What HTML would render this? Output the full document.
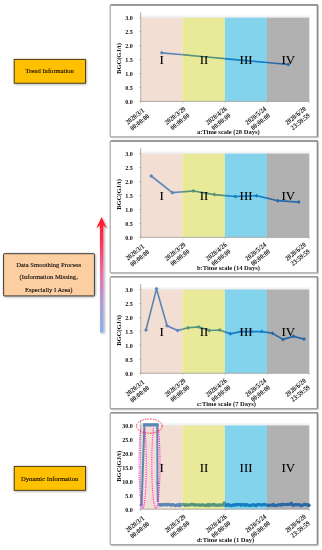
<!DOCTYPE html>
<html lang="en"><head><meta charset="utf-8"><title>Data smoothing process</title>
<style>
html,body{margin:0;padding:0;background:#fff;}
body{width:322px;height:550px;overflow:hidden;}
svg{display:block;}
text{font-family:"Liberation Serif",serif;fill:#111;}
.b{font-weight:bold;font-size:7.1px;}
.r{font-size:12.9px;fill:#000;stroke:#000;stroke-width:0.12px;}
.bx{font-size:6.6px;fill:#000;stroke:#000;stroke-width:0.08px;}
</style></head><body>
<svg width="322" height="550" viewBox="0 0 322 550">
<defs>
<filter id="sh" x="-10%" y="-10%" width="125%" height="125%"><feDropShadow dx="0.7" dy="0.7" stdDeviation="0.6" flood-color="#000" flood-opacity="0.35"/></filter>
<filter id="sh2" x="-20%" y="-20%" width="150%" height="150%"><feDropShadow dx="0.6" dy="0.6" stdDeviation="0.9" flood-color="#000" flood-opacity="0.38"/></filter>
<filter id="sh3" x="-200%" y="-5%" width="500%" height="110%"><feDropShadow dx="1.2" dy="1" stdDeviation="0.8" flood-color="#000" flood-opacity="0.35"/></filter>
<linearGradient id="ag" x1="0" y1="0" x2="0" y2="1">
<stop offset="0" stop-color="#FF1A28"/><stop offset="0.2" stop-color="#FC3050"/><stop offset="0.46" stop-color="#EE69A0"/><stop offset="0.667" stop-color="#BC91D0"/><stop offset="0.85" stop-color="#9DA8E2"/><stop offset="1" stop-color="#88B2EC"/>
</linearGradient>
<clipPath id="c0"><rect x="120.7" y="0" width="61.75" height="140"/></clipPath>
<clipPath id="c1"><rect x="182.45" y="0" width="42.4" height="140"/></clipPath>
<clipPath id="c2"><rect x="224.85" y="0" width="42.15" height="140"/></clipPath>
<clipPath id="c3"><rect x="267" y="0" width="62.3" height="140"/></clipPath>
</defs>
<rect width="322" height="550" fill="#fff"/>
<g filter="url(#sh2)">
<rect x="14.2" y="59.4" width="71.3" height="23.8" fill="#FFC000" stroke="#43340a" stroke-width="0.9"/>
<rect x="3.6" y="253.7" width="90.8" height="42.2" rx="0.6" fill="#FCCEA2" stroke="#3c3c3c" stroke-width="1"/>
<rect x="14.2" y="466.4" width="71.3" height="23.9" fill="#FFC000" stroke="#43340a" stroke-width="0.9"/>
</g>
<text class="bx" x="49.6" y="73.2" text-anchor="middle">Trend Information</text>
<text class="bx" x="48.7" y="266.6" text-anchor="middle">Data Smoothing Process</text>
<text class="bx" x="48.7" y="279.4" text-anchor="middle">(Information Missing,</text>
<text class="bx" x="48.7" y="291.9" text-anchor="middle">Especially I Area)</text>
<text class="bx" x="49.6" y="480.8" text-anchor="middle">Dynamic Information</text>
<g filter="url(#sh3)">
<path d="M101.6 217 L106.8 228.2 L103.3 225.6 L103.5 332.4 L100 332.4 L99.9 225.6 L96.2 228.2 Z" fill="url(#ag)"/>
</g>
<g transform="translate(0 0)">
<rect x="110.2" y="4.9" width="207.3" height="131.9" rx="1.1" fill="#fff" stroke="#a2a2a2" stroke-width="1.1" filter="url(#sh)"/>
<path d="M110.8 5H317.4V136.2" stroke="#8c8c8c" stroke-width="1.4" fill="none" stroke-linejoin="round"/>
<rect x="140.7" y="17.4" width="41.8" height="84" fill="#F2DED2"/>
<rect x="182.45" y="17.4" width="42.45" height="84" fill="#E8E999"/>
<rect x="224.85" y="17.4" width="42.2" height="84" fill="#84D3EC"/>
<rect x="267" y="17.4" width="42.3" height="84" fill="#B1B1B1"/>
<rect x="140.7" y="15.5" width="168.6" height="2.3" fill="#E6EAEE" opacity="0.6"/>
<path d="M140.7 12.2V101.4H309.3" fill="none" stroke="#9c9c9c" stroke-width="0.8"/>
<path d="M138.9 17.7H140.7M138.9 31.65H140.7M138.9 45.6H140.7M138.9 59.55H140.7M138.9 73.5H140.7M138.9 87.45H140.7M138.9 101.4H140.7M140.7 101.4V103.2M182.85 101.4V103.2M225 101.4V103.2M267.15 101.4V103.2M309.3 101.4V103.2" fill="none" stroke="#a8a8a8" stroke-width="0.6"/>
<text class="b" transform="translate(132.9 20.15) scale(0.86 1)" text-anchor="end">3.0</text>
<text class="b" transform="translate(132.9 34.1) scale(0.86 1)" text-anchor="end">2.5</text>
<text class="b" transform="translate(132.9 48.05) scale(0.86 1)" text-anchor="end">2.0</text>
<text class="b" transform="translate(132.9 62) scale(0.86 1)" text-anchor="end">1.5</text>
<text class="b" transform="translate(132.9 75.95) scale(0.86 1)" text-anchor="end">1.0</text>
<text class="b" transform="translate(132.9 89.9) scale(0.86 1)" text-anchor="end">0.5</text>
<text class="b" transform="translate(132.9 103.85) scale(0.86 1)" text-anchor="end">0.0</text>
<text class="b" transform="translate(121.3 58.55) rotate(-90) scale(0.92 1)" text-anchor="middle">BGC(GJ/t)</text>
<g transform="translate(136.4 118.1) rotate(-39) scale(0.86 1)"><text class="b" text-anchor="middle" x="0" y="0">2020/3/1</text><text class="b" text-anchor="middle" x="0" y="7.6">00:00:00</text></g>
<g transform="translate(176.55 117.5) rotate(-39) scale(0.86 1)"><text class="b" text-anchor="middle" x="0" y="0">2020/3/29</text><text class="b" text-anchor="middle" x="0" y="7.6">00:00:00</text></g>
<g transform="translate(217.7 117.5) rotate(-39) scale(0.86 1)"><text class="b" text-anchor="middle" x="0" y="0">2020/4/26</text><text class="b" text-anchor="middle" x="0" y="7.6">00:00:00</text></g>
<g transform="translate(257.15 117.5) rotate(-39) scale(0.86 1)"><text class="b" text-anchor="middle" x="0" y="0">2020/5/24</text><text class="b" text-anchor="middle" x="0" y="7.6">00:00:00</text></g>
<g transform="translate(297 117.5) rotate(-39) scale(0.86 1)"><text class="b" text-anchor="middle" x="0" y="0">2020/6/20</text><text class="b" text-anchor="middle" x="0" y="7.6">23:59:59</text></g>
<text class="b" transform="translate(196.9 134.4) scale(0.92 1)">a:Time scale (28 Days)</text>
<g clip-path="url(#c0)" stroke="#5C86B6" fill="#5C86B6"><polyline points="161.77,52.82 203.93,56.71 246.07,60.59 288.23,64.48" fill="none" stroke-width="1.65" stroke-linejoin="round"/><path stroke="none" d="M161.77 50.82L163.77 52.82L161.77 54.82L159.77 52.82Z"/><path stroke="none" d="M288.23 62.48L290.23 64.48L288.23 66.48L286.23 64.48Z"/></g>
<g clip-path="url(#c1)" stroke="#55937A" fill="#55937A"><polyline points="161.77,52.82 203.93,56.71 246.07,60.59 288.23,64.48" fill="none" stroke-width="1.65" stroke-linejoin="round"/><path stroke="none" d="M161.77 50.82L163.77 52.82L161.77 54.82L159.77 52.82Z"/><path stroke="none" d="M288.23 62.48L290.23 64.48L288.23 66.48L286.23 64.48Z"/></g>
<g clip-path="url(#c2)" stroke="#147DC3" fill="#147DC3"><polyline points="161.77,52.82 203.93,56.71 246.07,60.59 288.23,64.48" fill="none" stroke-width="1.65" stroke-linejoin="round"/><path stroke="none" d="M161.77 50.82L163.77 52.82L161.77 54.82L159.77 52.82Z"/><path stroke="none" d="M288.23 62.48L290.23 64.48L288.23 66.48L286.23 64.48Z"/></g>
<g clip-path="url(#c3)" stroke="#2A68A8" fill="#2A68A8"><polyline points="161.77,52.82 203.93,56.71 246.07,60.59 288.23,64.48" fill="none" stroke-width="1.65" stroke-linejoin="round"/><path stroke="none" d="M161.77 50.82L163.77 52.82L161.77 54.82L159.77 52.82Z"/><path stroke="none" d="M288.23 62.48L290.23 64.48L288.23 66.48L286.23 64.48Z"/></g>
<text class="r" x="161.77" y="64.1" text-anchor="middle">I</text>
<text class="r" x="203.93" y="64.1" text-anchor="middle">II</text>
<text class="r" x="246.07" y="64.1" text-anchor="middle">III</text>
<text class="r" x="288.23" y="64.1" text-anchor="middle">IV</text>
</g>
<g transform="translate(0 135.93)">
<rect x="110.2" y="4.9" width="207.3" height="131.9" rx="1.1" fill="#fff" stroke="#a2a2a2" stroke-width="1.1" filter="url(#sh)"/>
<path d="M110.8 5H317.4V136.2" stroke="#8c8c8c" stroke-width="1.4" fill="none" stroke-linejoin="round"/>
<rect x="140.7" y="17.4" width="41.8" height="84" fill="#F2DED2"/>
<rect x="182.45" y="17.4" width="42.45" height="84" fill="#E8E999"/>
<rect x="224.85" y="17.4" width="42.2" height="84" fill="#84D3EC"/>
<rect x="267" y="17.4" width="42.3" height="84" fill="#B1B1B1"/>
<rect x="140.7" y="15.5" width="168.6" height="2.3" fill="#E6EAEE" opacity="0.6"/>
<path d="M140.7 12.2V101.4H309.3" fill="none" stroke="#9c9c9c" stroke-width="0.8"/>
<path d="M138.9 17.7H140.7M138.9 31.65H140.7M138.9 45.6H140.7M138.9 59.55H140.7M138.9 73.5H140.7M138.9 87.45H140.7M138.9 101.4H140.7M140.7 101.4V103.2M182.85 101.4V103.2M225 101.4V103.2M267.15 101.4V103.2M309.3 101.4V103.2" fill="none" stroke="#a8a8a8" stroke-width="0.6"/>
<text class="b" transform="translate(132.9 20.15) scale(0.86 1)" text-anchor="end">3.0</text>
<text class="b" transform="translate(132.9 34.1) scale(0.86 1)" text-anchor="end">2.5</text>
<text class="b" transform="translate(132.9 48.05) scale(0.86 1)" text-anchor="end">2.0</text>
<text class="b" transform="translate(132.9 62) scale(0.86 1)" text-anchor="end">1.5</text>
<text class="b" transform="translate(132.9 75.95) scale(0.86 1)" text-anchor="end">1.0</text>
<text class="b" transform="translate(132.9 89.9) scale(0.86 1)" text-anchor="end">0.5</text>
<text class="b" transform="translate(132.9 103.85) scale(0.86 1)" text-anchor="end">0.0</text>
<text class="b" transform="translate(121.3 58.55) rotate(-90) scale(0.92 1)" text-anchor="middle">BGC(GJ/t)</text>
<g transform="translate(136.4 118.1) rotate(-39) scale(0.86 1)"><text class="b" text-anchor="middle" x="0" y="0">2020/3/1</text><text class="b" text-anchor="middle" x="0" y="7.6">00:00:00</text></g>
<g transform="translate(176.55 117.5) rotate(-39) scale(0.86 1)"><text class="b" text-anchor="middle" x="0" y="0">2020/3/29</text><text class="b" text-anchor="middle" x="0" y="7.6">00:00:00</text></g>
<g transform="translate(217.7 117.5) rotate(-39) scale(0.86 1)"><text class="b" text-anchor="middle" x="0" y="0">2020/4/26</text><text class="b" text-anchor="middle" x="0" y="7.6">00:00:00</text></g>
<g transform="translate(257.15 117.5) rotate(-39) scale(0.86 1)"><text class="b" text-anchor="middle" x="0" y="0">2020/5/24</text><text class="b" text-anchor="middle" x="0" y="7.6">00:00:00</text></g>
<g transform="translate(297 117.5) rotate(-39) scale(0.86 1)"><text class="b" text-anchor="middle" x="0" y="0">2020/6/20</text><text class="b" text-anchor="middle" x="0" y="7.6">23:59:59</text></g>
<text class="b" transform="translate(196.9 134.4) scale(0.92 1)">b:Time scale (14 Days)</text>
<g clip-path="url(#c0)" stroke="#5C86B6" fill="#5C86B6"><polyline points="151.24,40.05 172.31,56.71 193.39,55.04 214.46,58.65 235.54,60.59 256.61,59.76 277.69,64.76 298.76,66.15" fill="none" stroke-width="1.65" stroke-linejoin="round"/><path stroke="none" d="M151.24 38.05L153.24 40.05L151.24 42.05L149.24 40.05Z"/><path stroke="none" d="M172.31 54.71L174.31 56.71L172.31 58.71L170.31 56.71Z"/><path stroke="none" d="M193.39 53.04L195.39 55.04L193.39 57.04L191.39 55.04Z"/><path stroke="none" d="M214.46 56.65L216.46 58.65L214.46 60.65L212.46 58.65Z"/><path stroke="none" d="M235.54 58.59L237.54 60.59L235.54 62.59L233.54 60.59Z"/><path stroke="none" d="M256.61 57.76L258.61 59.76L256.61 61.76L254.61 59.76Z"/><path stroke="none" d="M277.69 62.76L279.69 64.76L277.69 66.76L275.69 64.76Z"/><path stroke="none" d="M298.76 64.15L300.76 66.15L298.76 68.15L296.76 66.15Z"/></g>
<g clip-path="url(#c1)" stroke="#55937A" fill="#55937A"><polyline points="151.24,40.05 172.31,56.71 193.39,55.04 214.46,58.65 235.54,60.59 256.61,59.76 277.69,64.76 298.76,66.15" fill="none" stroke-width="1.65" stroke-linejoin="round"/><path stroke="none" d="M151.24 38.05L153.24 40.05L151.24 42.05L149.24 40.05Z"/><path stroke="none" d="M172.31 54.71L174.31 56.71L172.31 58.71L170.31 56.71Z"/><path stroke="none" d="M193.39 53.04L195.39 55.04L193.39 57.04L191.39 55.04Z"/><path stroke="none" d="M214.46 56.65L216.46 58.65L214.46 60.65L212.46 58.65Z"/><path stroke="none" d="M235.54 58.59L237.54 60.59L235.54 62.59L233.54 60.59Z"/><path stroke="none" d="M256.61 57.76L258.61 59.76L256.61 61.76L254.61 59.76Z"/><path stroke="none" d="M277.69 62.76L279.69 64.76L277.69 66.76L275.69 64.76Z"/><path stroke="none" d="M298.76 64.15L300.76 66.15L298.76 68.15L296.76 66.15Z"/></g>
<g clip-path="url(#c2)" stroke="#147DC3" fill="#147DC3"><polyline points="151.24,40.05 172.31,56.71 193.39,55.04 214.46,58.65 235.54,60.59 256.61,59.76 277.69,64.76 298.76,66.15" fill="none" stroke-width="1.65" stroke-linejoin="round"/><path stroke="none" d="M151.24 38.05L153.24 40.05L151.24 42.05L149.24 40.05Z"/><path stroke="none" d="M172.31 54.71L174.31 56.71L172.31 58.71L170.31 56.71Z"/><path stroke="none" d="M193.39 53.04L195.39 55.04L193.39 57.04L191.39 55.04Z"/><path stroke="none" d="M214.46 56.65L216.46 58.65L214.46 60.65L212.46 58.65Z"/><path stroke="none" d="M235.54 58.59L237.54 60.59L235.54 62.59L233.54 60.59Z"/><path stroke="none" d="M256.61 57.76L258.61 59.76L256.61 61.76L254.61 59.76Z"/><path stroke="none" d="M277.69 62.76L279.69 64.76L277.69 66.76L275.69 64.76Z"/><path stroke="none" d="M298.76 64.15L300.76 66.15L298.76 68.15L296.76 66.15Z"/></g>
<g clip-path="url(#c3)" stroke="#2A68A8" fill="#2A68A8"><polyline points="151.24,40.05 172.31,56.71 193.39,55.04 214.46,58.65 235.54,60.59 256.61,59.76 277.69,64.76 298.76,66.15" fill="none" stroke-width="1.65" stroke-linejoin="round"/><path stroke="none" d="M151.24 38.05L153.24 40.05L151.24 42.05L149.24 40.05Z"/><path stroke="none" d="M172.31 54.71L174.31 56.71L172.31 58.71L170.31 56.71Z"/><path stroke="none" d="M193.39 53.04L195.39 55.04L193.39 57.04L191.39 55.04Z"/><path stroke="none" d="M214.46 56.65L216.46 58.65L214.46 60.65L212.46 58.65Z"/><path stroke="none" d="M235.54 58.59L237.54 60.59L235.54 62.59L233.54 60.59Z"/><path stroke="none" d="M256.61 57.76L258.61 59.76L256.61 61.76L254.61 59.76Z"/><path stroke="none" d="M277.69 62.76L279.69 64.76L277.69 66.76L275.69 64.76Z"/><path stroke="none" d="M298.76 64.15L300.76 66.15L298.76 68.15L296.76 66.15Z"/></g>
<text class="r" x="161.77" y="64.1" text-anchor="middle">I</text>
<text class="r" x="203.93" y="64.1" text-anchor="middle">II</text>
<text class="r" x="246.07" y="64.1" text-anchor="middle">III</text>
<text class="r" x="288.23" y="64.1" text-anchor="middle">IV</text>
</g>
<g transform="translate(0 271.86)">
<rect x="110.2" y="4.9" width="207.3" height="131.9" rx="1.1" fill="#fff" stroke="#a2a2a2" stroke-width="1.1" filter="url(#sh)"/>
<path d="M110.8 5H317.4V136.2" stroke="#8c8c8c" stroke-width="1.4" fill="none" stroke-linejoin="round"/>
<rect x="140.7" y="17.4" width="41.8" height="84" fill="#F2DED2"/>
<rect x="182.45" y="17.4" width="42.45" height="84" fill="#E8E999"/>
<rect x="224.85" y="17.4" width="42.2" height="84" fill="#84D3EC"/>
<rect x="267" y="17.4" width="42.3" height="84" fill="#B1B1B1"/>
<rect x="140.7" y="15.5" width="168.6" height="2.3" fill="#E6EAEE" opacity="0.6"/>
<path d="M140.7 12.2V101.4H309.3" fill="none" stroke="#9c9c9c" stroke-width="0.8"/>
<path d="M138.9 17.7H140.7M138.9 31.65H140.7M138.9 45.6H140.7M138.9 59.55H140.7M138.9 73.5H140.7M138.9 87.45H140.7M138.9 101.4H140.7M140.7 101.4V103.2M182.85 101.4V103.2M225 101.4V103.2M267.15 101.4V103.2M309.3 101.4V103.2" fill="none" stroke="#a8a8a8" stroke-width="0.6"/>
<text class="b" transform="translate(132.9 20.15) scale(0.86 1)" text-anchor="end">3.0</text>
<text class="b" transform="translate(132.9 34.1) scale(0.86 1)" text-anchor="end">2.5</text>
<text class="b" transform="translate(132.9 48.05) scale(0.86 1)" text-anchor="end">2.0</text>
<text class="b" transform="translate(132.9 62) scale(0.86 1)" text-anchor="end">1.5</text>
<text class="b" transform="translate(132.9 75.95) scale(0.86 1)" text-anchor="end">1.0</text>
<text class="b" transform="translate(132.9 89.9) scale(0.86 1)" text-anchor="end">0.5</text>
<text class="b" transform="translate(132.9 103.85) scale(0.86 1)" text-anchor="end">0.0</text>
<text class="b" transform="translate(121.3 58.55) rotate(-90) scale(0.92 1)" text-anchor="middle">BGC(GJ/t)</text>
<g transform="translate(136.4 118.1) rotate(-39) scale(0.86 1)"><text class="b" text-anchor="middle" x="0" y="0">2020/3/1</text><text class="b" text-anchor="middle" x="0" y="7.6">00:00:00</text></g>
<g transform="translate(176.55 117.5) rotate(-39) scale(0.86 1)"><text class="b" text-anchor="middle" x="0" y="0">2020/3/29</text><text class="b" text-anchor="middle" x="0" y="7.6">00:00:00</text></g>
<g transform="translate(217.7 117.5) rotate(-39) scale(0.86 1)"><text class="b" text-anchor="middle" x="0" y="0">2020/4/26</text><text class="b" text-anchor="middle" x="0" y="7.6">00:00:00</text></g>
<g transform="translate(257.15 117.5) rotate(-39) scale(0.86 1)"><text class="b" text-anchor="middle" x="0" y="0">2020/5/24</text><text class="b" text-anchor="middle" x="0" y="7.6">00:00:00</text></g>
<g transform="translate(297 117.5) rotate(-39) scale(0.86 1)"><text class="b" text-anchor="middle" x="0" y="0">2020/6/20</text><text class="b" text-anchor="middle" x="0" y="7.6">23:59:59</text></g>
<text class="b" transform="translate(196.9 134.4) scale(0.92 1)">c:Time scale (7 Days)</text>
<g clip-path="url(#c0)" stroke="#5C86B6" fill="#5C86B6"><polyline points="145.97,58.09 156.51,17 167.04,53.93 177.58,58.65 188.12,55.87 198.66,55.04 209.19,58.65 219.73,58.09 230.27,61.98 240.81,59.76 251.34,59.76 261.88,59.76 272.42,61.43 282.96,67.54 293.49,64.48 304.03,67.26" fill="none" stroke-width="1.65" stroke-linejoin="round"/><path stroke="none" d="M145.97 56.09L147.97 58.09L145.97 60.09L143.97 58.09Z"/><path stroke="none" d="M156.51 15L158.51 17L156.51 19L154.51 17Z"/><path stroke="none" d="M167.04 51.93L169.04 53.93L167.04 55.93L165.04 53.93Z"/><path stroke="none" d="M177.58 56.65L179.58 58.65L177.58 60.65L175.58 58.65Z"/><path stroke="none" d="M188.12 53.87L190.12 55.87L188.12 57.87L186.12 55.87Z"/><path stroke="none" d="M198.66 53.04L200.66 55.04L198.66 57.04L196.66 55.04Z"/><path stroke="none" d="M209.19 56.65L211.19 58.65L209.19 60.65L207.19 58.65Z"/><path stroke="none" d="M219.73 56.09L221.73 58.09L219.73 60.09L217.73 58.09Z"/><path stroke="none" d="M230.27 59.98L232.27 61.98L230.27 63.98L228.27 61.98Z"/><path stroke="none" d="M240.81 57.76L242.81 59.76L240.81 61.76L238.81 59.76Z"/><path stroke="none" d="M251.34 57.76L253.34 59.76L251.34 61.76L249.34 59.76Z"/><path stroke="none" d="M261.88 57.76L263.88 59.76L261.88 61.76L259.88 59.76Z"/><path stroke="none" d="M272.42 59.43L274.42 61.43L272.42 63.43L270.42 61.43Z"/><path stroke="none" d="M282.96 65.54L284.96 67.54L282.96 69.54L280.96 67.54Z"/><path stroke="none" d="M293.49 62.48L295.49 64.48L293.49 66.48L291.49 64.48Z"/><path stroke="none" d="M304.03 65.26L306.03 67.26L304.03 69.26L302.03 67.26Z"/></g>
<g clip-path="url(#c1)" stroke="#55937A" fill="#55937A"><polyline points="145.97,58.09 156.51,17 167.04,53.93 177.58,58.65 188.12,55.87 198.66,55.04 209.19,58.65 219.73,58.09 230.27,61.98 240.81,59.76 251.34,59.76 261.88,59.76 272.42,61.43 282.96,67.54 293.49,64.48 304.03,67.26" fill="none" stroke-width="1.65" stroke-linejoin="round"/><path stroke="none" d="M145.97 56.09L147.97 58.09L145.97 60.09L143.97 58.09Z"/><path stroke="none" d="M156.51 15L158.51 17L156.51 19L154.51 17Z"/><path stroke="none" d="M167.04 51.93L169.04 53.93L167.04 55.93L165.04 53.93Z"/><path stroke="none" d="M177.58 56.65L179.58 58.65L177.58 60.65L175.58 58.65Z"/><path stroke="none" d="M188.12 53.87L190.12 55.87L188.12 57.87L186.12 55.87Z"/><path stroke="none" d="M198.66 53.04L200.66 55.04L198.66 57.04L196.66 55.04Z"/><path stroke="none" d="M209.19 56.65L211.19 58.65L209.19 60.65L207.19 58.65Z"/><path stroke="none" d="M219.73 56.09L221.73 58.09L219.73 60.09L217.73 58.09Z"/><path stroke="none" d="M230.27 59.98L232.27 61.98L230.27 63.98L228.27 61.98Z"/><path stroke="none" d="M240.81 57.76L242.81 59.76L240.81 61.76L238.81 59.76Z"/><path stroke="none" d="M251.34 57.76L253.34 59.76L251.34 61.76L249.34 59.76Z"/><path stroke="none" d="M261.88 57.76L263.88 59.76L261.88 61.76L259.88 59.76Z"/><path stroke="none" d="M272.42 59.43L274.42 61.43L272.42 63.43L270.42 61.43Z"/><path stroke="none" d="M282.96 65.54L284.96 67.54L282.96 69.54L280.96 67.54Z"/><path stroke="none" d="M293.49 62.48L295.49 64.48L293.49 66.48L291.49 64.48Z"/><path stroke="none" d="M304.03 65.26L306.03 67.26L304.03 69.26L302.03 67.26Z"/></g>
<g clip-path="url(#c2)" stroke="#147DC3" fill="#147DC3"><polyline points="145.97,58.09 156.51,17 167.04,53.93 177.58,58.65 188.12,55.87 198.66,55.04 209.19,58.65 219.73,58.09 230.27,61.98 240.81,59.76 251.34,59.76 261.88,59.76 272.42,61.43 282.96,67.54 293.49,64.48 304.03,67.26" fill="none" stroke-width="1.65" stroke-linejoin="round"/><path stroke="none" d="M145.97 56.09L147.97 58.09L145.97 60.09L143.97 58.09Z"/><path stroke="none" d="M156.51 15L158.51 17L156.51 19L154.51 17Z"/><path stroke="none" d="M167.04 51.93L169.04 53.93L167.04 55.93L165.04 53.93Z"/><path stroke="none" d="M177.58 56.65L179.58 58.65L177.58 60.65L175.58 58.65Z"/><path stroke="none" d="M188.12 53.87L190.12 55.87L188.12 57.87L186.12 55.87Z"/><path stroke="none" d="M198.66 53.04L200.66 55.04L198.66 57.04L196.66 55.04Z"/><path stroke="none" d="M209.19 56.65L211.19 58.65L209.19 60.65L207.19 58.65Z"/><path stroke="none" d="M219.73 56.09L221.73 58.09L219.73 60.09L217.73 58.09Z"/><path stroke="none" d="M230.27 59.98L232.27 61.98L230.27 63.98L228.27 61.98Z"/><path stroke="none" d="M240.81 57.76L242.81 59.76L240.81 61.76L238.81 59.76Z"/><path stroke="none" d="M251.34 57.76L253.34 59.76L251.34 61.76L249.34 59.76Z"/><path stroke="none" d="M261.88 57.76L263.88 59.76L261.88 61.76L259.88 59.76Z"/><path stroke="none" d="M272.42 59.43L274.42 61.43L272.42 63.43L270.42 61.43Z"/><path stroke="none" d="M282.96 65.54L284.96 67.54L282.96 69.54L280.96 67.54Z"/><path stroke="none" d="M293.49 62.48L295.49 64.48L293.49 66.48L291.49 64.48Z"/><path stroke="none" d="M304.03 65.26L306.03 67.26L304.03 69.26L302.03 67.26Z"/></g>
<g clip-path="url(#c3)" stroke="#2A68A8" fill="#2A68A8"><polyline points="145.97,58.09 156.51,17 167.04,53.93 177.58,58.65 188.12,55.87 198.66,55.04 209.19,58.65 219.73,58.09 230.27,61.98 240.81,59.76 251.34,59.76 261.88,59.76 272.42,61.43 282.96,67.54 293.49,64.48 304.03,67.26" fill="none" stroke-width="1.65" stroke-linejoin="round"/><path stroke="none" d="M145.97 56.09L147.97 58.09L145.97 60.09L143.97 58.09Z"/><path stroke="none" d="M156.51 15L158.51 17L156.51 19L154.51 17Z"/><path stroke="none" d="M167.04 51.93L169.04 53.93L167.04 55.93L165.04 53.93Z"/><path stroke="none" d="M177.58 56.65L179.58 58.65L177.58 60.65L175.58 58.65Z"/><path stroke="none" d="M188.12 53.87L190.12 55.87L188.12 57.87L186.12 55.87Z"/><path stroke="none" d="M198.66 53.04L200.66 55.04L198.66 57.04L196.66 55.04Z"/><path stroke="none" d="M209.19 56.65L211.19 58.65L209.19 60.65L207.19 58.65Z"/><path stroke="none" d="M219.73 56.09L221.73 58.09L219.73 60.09L217.73 58.09Z"/><path stroke="none" d="M230.27 59.98L232.27 61.98L230.27 63.98L228.27 61.98Z"/><path stroke="none" d="M240.81 57.76L242.81 59.76L240.81 61.76L238.81 59.76Z"/><path stroke="none" d="M251.34 57.76L253.34 59.76L251.34 61.76L249.34 59.76Z"/><path stroke="none" d="M261.88 57.76L263.88 59.76L261.88 61.76L259.88 59.76Z"/><path stroke="none" d="M272.42 59.43L274.42 61.43L272.42 63.43L270.42 61.43Z"/><path stroke="none" d="M282.96 65.54L284.96 67.54L282.96 69.54L280.96 67.54Z"/><path stroke="none" d="M293.49 62.48L295.49 64.48L293.49 66.48L291.49 64.48Z"/><path stroke="none" d="M304.03 65.26L306.03 67.26L304.03 69.26L302.03 67.26Z"/></g>
<text class="r" x="161.77" y="64.1" text-anchor="middle">I</text>
<text class="r" x="203.93" y="64.1" text-anchor="middle">II</text>
<text class="r" x="246.07" y="64.1" text-anchor="middle">III</text>
<text class="r" x="288.23" y="64.1" text-anchor="middle">IV</text>
</g>
<g transform="translate(0 407.79)">
<rect x="110.2" y="4.9" width="207.3" height="131.9" rx="1.1" fill="#fff" stroke="#a2a2a2" stroke-width="1.1" filter="url(#sh)"/>
<path d="M110.8 5H317.4V136.2" stroke="#8c8c8c" stroke-width="1.4" fill="none" stroke-linejoin="round"/>
<rect x="140.7" y="17.4" width="41.8" height="84" fill="#F2DED2"/>
<rect x="182.45" y="17.4" width="42.45" height="84" fill="#E8E999"/>
<rect x="224.85" y="17.4" width="42.2" height="84" fill="#84D3EC"/>
<rect x="267" y="17.4" width="42.3" height="84" fill="#B1B1B1"/>
<rect x="140.7" y="15.5" width="168.6" height="2.3" fill="#E6EAEE" opacity="0.6"/>
<path d="M140.7 12.2V101.4H309.3" fill="none" stroke="#9c9c9c" stroke-width="0.8"/>
<path d="M138.9 17.7H140.7M138.9 31.65H140.7M138.9 45.6H140.7M138.9 59.55H140.7M138.9 73.5H140.7M138.9 87.45H140.7M138.9 101.4H140.7M140.7 101.4V103.2M182.85 101.4V103.2M225 101.4V103.2M267.15 101.4V103.2M309.3 101.4V103.2" fill="none" stroke="#a8a8a8" stroke-width="0.6"/>
<text class="b" transform="translate(132.9 20.15) scale(0.86 1)" text-anchor="end">30.0</text>
<text class="b" transform="translate(132.9 34.1) scale(0.86 1)" text-anchor="end">25.0</text>
<text class="b" transform="translate(132.9 48.05) scale(0.86 1)" text-anchor="end">20.0</text>
<text class="b" transform="translate(132.9 62) scale(0.86 1)" text-anchor="end">15.0</text>
<text class="b" transform="translate(132.9 75.95) scale(0.86 1)" text-anchor="end">10.0</text>
<text class="b" transform="translate(132.9 89.9) scale(0.86 1)" text-anchor="end">5.0</text>
<text class="b" transform="translate(132.9 103.85) scale(0.86 1)" text-anchor="end">0.0</text>
<text class="b" transform="translate(121.3 58.55) rotate(-90) scale(0.92 1)" text-anchor="middle">BGC(GJ/t)</text>
<g transform="translate(136.4 118.1) rotate(-39) scale(0.86 1)"><text class="b" text-anchor="middle" x="0" y="0">2020/3/1</text><text class="b" text-anchor="middle" x="0" y="7.6">00:00:00</text></g>
<g transform="translate(176.55 117.5) rotate(-39) scale(0.86 1)"><text class="b" text-anchor="middle" x="0" y="0">2020/3/29</text><text class="b" text-anchor="middle" x="0" y="7.6">00:00:00</text></g>
<g transform="translate(217.7 117.5) rotate(-39) scale(0.86 1)"><text class="b" text-anchor="middle" x="0" y="0">2020/4/26</text><text class="b" text-anchor="middle" x="0" y="7.6">00:00:00</text></g>
<g transform="translate(257.15 117.5) rotate(-39) scale(0.86 1)"><text class="b" text-anchor="middle" x="0" y="0">2020/5/24</text><text class="b" text-anchor="middle" x="0" y="7.6">00:00:00</text></g>
<g transform="translate(297 117.5) rotate(-39) scale(0.86 1)"><text class="b" text-anchor="middle" x="0" y="0">2020/6/20</text><text class="b" text-anchor="middle" x="0" y="7.6">23:59:59</text></g>
<text class="b" transform="translate(196.9 134.4) scale(0.92 1)">d:Time scale (1 Day)</text>
<g clip-path="url(#c0)" stroke="#5C86B6" fill="#5C86B6"><polyline points="140.9,96.97 141.6,97.52 144.4,17 157.3,17 157.5,75.31 157.9,94.19" fill="none" stroke-width="2" stroke-linejoin="round"/><path d="M142.8 17.1H158.7" stroke-width="3.3" fill="none"/><polyline points="158.2,96.94 159.2,96.7 160.2,97.4 161.2,96.59 162.2,97.24 163.2,97 164.2,96.57 165.2,97.2 166.2,96.54 167.2,97.1 168.2,96.59 169.2,96.62 170.2,97.08 171.2,97.65 172.2,96.66 173.2,96.8 174.2,97.37 175.2,97.82 176.2,97.3 177.2,97.05 178.2,97.86 179.2,96.56 180.2,97.69 181.2,96.9 182.2,96.69 183.2,96.66 184.2,96.92 185.2,97.63 186.2,96.74 187.2,97.3 188.2,97.38 189.2,97.01 190.2,97.26 191.2,96.58 192.2,96.57 193.2,96.78 194.2,97.44 195.2,97.09 196.2,96.93 197.2,97.31 198.2,97.12 199.2,96.91 200.2,97.6 201.2,97.47 202.2,96.83 203.2,97.29 204.2,97.23 205.2,97.72 206.2,97.51 207.2,96.89 208.2,97.86 209.2,96.66 210.2,97.08 211.2,97.55 212.2,96.7 213.2,97.17 214.2,96.55 215.2,97.43 216.2,97.56 217.2,97.29 218.2,97.72 219.2,96.93 220.2,97.46 221.2,97.32 222.2,97.3 223.2,97.13 224.2,95.07 225.2,97.81 226.2,97.15 227.2,97.42 228.2,96.58 229.2,97.47 230.2,97.4 231.2,97.88 232.2,97.64 233.2,96.89 234.2,97.03 235.2,97.43 236.2,96.52 237.2,97.14 238.2,96.73 239.2,96.65 240.2,96.57 241.2,97.57 242.2,96.67 243.2,96.84 244.2,97.04 245.2,97.71 246.2,96.6 247.2,97.12 248.2,97.26 249.2,97.73 250.2,97.64 251.2,97.7 252.2,96.88 253.2,97.07 254.2,96.99 255.2,97.73 256.2,97.83 257.2,96.7 258.2,96.74 259.2,96.81 260.2,96.82 261.2,97.17 262.2,97.31 263.2,96.86 264.2,96.5 265.2,97.08 266.2,97.01 267.2,97.28 268.2,97.82 269.2,97.46 270.2,97.21 271.2,97.35 272.2,97.44 273.2,96.57 274.2,97.75 275.2,97.58 276.2,97.71 277.2,97.61 278.2,97.04 279.2,97.05 280.2,96.64 281.2,97.38 282.2,96.58 283.2,96.58 284.2,96.78 285.2,96.72 286.2,96.97 287.2,96.56 288.2,96.49 289.2,96.7 290.2,96.63 291.2,95.4 292.2,96.53 293.2,97.71 294.2,97.35 295.2,96.7 296.2,96.84 297.2,96.98 298.2,97 299.2,96.66 300.2,97.68 301.2,97.88 302.2,97.14 303.2,97.17 304.2,96.61 305.2,96.63 306.2,96.97 307.2,96.86 308.2,97.65 309,97.39" fill="none" stroke-width="3.1" stroke-linejoin="round"/><path stroke="none" d="M309 95.29L311.1 97.39L309 99.49L306.9 97.39Z"/><path stroke="none" d="M157.6 73.51L159.4 75.31L157.6 77.11L155.8 75.31Z"/><path stroke="none" d="M141 95.17L142.8 96.97L141 98.77L139.2 96.97Z"/></g>
<g clip-path="url(#c1)" stroke="#55937A" fill="#55937A"><polyline points="140.9,96.97 141.6,97.52 144.4,17 157.3,17 157.5,75.31 157.9,94.19" fill="none" stroke-width="2" stroke-linejoin="round"/><path d="M142.8 17.1H158.7" stroke-width="3.3" fill="none"/><polyline points="158.2,96.94 159.2,96.7 160.2,97.4 161.2,96.59 162.2,97.24 163.2,97 164.2,96.57 165.2,97.2 166.2,96.54 167.2,97.1 168.2,96.59 169.2,96.62 170.2,97.08 171.2,97.65 172.2,96.66 173.2,96.8 174.2,97.37 175.2,97.82 176.2,97.3 177.2,97.05 178.2,97.86 179.2,96.56 180.2,97.69 181.2,96.9 182.2,96.69 183.2,96.66 184.2,96.92 185.2,97.63 186.2,96.74 187.2,97.3 188.2,97.38 189.2,97.01 190.2,97.26 191.2,96.58 192.2,96.57 193.2,96.78 194.2,97.44 195.2,97.09 196.2,96.93 197.2,97.31 198.2,97.12 199.2,96.91 200.2,97.6 201.2,97.47 202.2,96.83 203.2,97.29 204.2,97.23 205.2,97.72 206.2,97.51 207.2,96.89 208.2,97.86 209.2,96.66 210.2,97.08 211.2,97.55 212.2,96.7 213.2,97.17 214.2,96.55 215.2,97.43 216.2,97.56 217.2,97.29 218.2,97.72 219.2,96.93 220.2,97.46 221.2,97.32 222.2,97.3 223.2,97.13 224.2,95.07 225.2,97.81 226.2,97.15 227.2,97.42 228.2,96.58 229.2,97.47 230.2,97.4 231.2,97.88 232.2,97.64 233.2,96.89 234.2,97.03 235.2,97.43 236.2,96.52 237.2,97.14 238.2,96.73 239.2,96.65 240.2,96.57 241.2,97.57 242.2,96.67 243.2,96.84 244.2,97.04 245.2,97.71 246.2,96.6 247.2,97.12 248.2,97.26 249.2,97.73 250.2,97.64 251.2,97.7 252.2,96.88 253.2,97.07 254.2,96.99 255.2,97.73 256.2,97.83 257.2,96.7 258.2,96.74 259.2,96.81 260.2,96.82 261.2,97.17 262.2,97.31 263.2,96.86 264.2,96.5 265.2,97.08 266.2,97.01 267.2,97.28 268.2,97.82 269.2,97.46 270.2,97.21 271.2,97.35 272.2,97.44 273.2,96.57 274.2,97.75 275.2,97.58 276.2,97.71 277.2,97.61 278.2,97.04 279.2,97.05 280.2,96.64 281.2,97.38 282.2,96.58 283.2,96.58 284.2,96.78 285.2,96.72 286.2,96.97 287.2,96.56 288.2,96.49 289.2,96.7 290.2,96.63 291.2,95.4 292.2,96.53 293.2,97.71 294.2,97.35 295.2,96.7 296.2,96.84 297.2,96.98 298.2,97 299.2,96.66 300.2,97.68 301.2,97.88 302.2,97.14 303.2,97.17 304.2,96.61 305.2,96.63 306.2,96.97 307.2,96.86 308.2,97.65 309,97.39" fill="none" stroke-width="3.1" stroke-linejoin="round"/><path stroke="none" d="M309 95.29L311.1 97.39L309 99.49L306.9 97.39Z"/><path stroke="none" d="M157.6 73.51L159.4 75.31L157.6 77.11L155.8 75.31Z"/><path stroke="none" d="M141 95.17L142.8 96.97L141 98.77L139.2 96.97Z"/></g>
<g clip-path="url(#c2)" stroke="#147DC3" fill="#147DC3"><polyline points="140.9,96.97 141.6,97.52 144.4,17 157.3,17 157.5,75.31 157.9,94.19" fill="none" stroke-width="2" stroke-linejoin="round"/><path d="M142.8 17.1H158.7" stroke-width="3.3" fill="none"/><polyline points="158.2,96.94 159.2,96.7 160.2,97.4 161.2,96.59 162.2,97.24 163.2,97 164.2,96.57 165.2,97.2 166.2,96.54 167.2,97.1 168.2,96.59 169.2,96.62 170.2,97.08 171.2,97.65 172.2,96.66 173.2,96.8 174.2,97.37 175.2,97.82 176.2,97.3 177.2,97.05 178.2,97.86 179.2,96.56 180.2,97.69 181.2,96.9 182.2,96.69 183.2,96.66 184.2,96.92 185.2,97.63 186.2,96.74 187.2,97.3 188.2,97.38 189.2,97.01 190.2,97.26 191.2,96.58 192.2,96.57 193.2,96.78 194.2,97.44 195.2,97.09 196.2,96.93 197.2,97.31 198.2,97.12 199.2,96.91 200.2,97.6 201.2,97.47 202.2,96.83 203.2,97.29 204.2,97.23 205.2,97.72 206.2,97.51 207.2,96.89 208.2,97.86 209.2,96.66 210.2,97.08 211.2,97.55 212.2,96.7 213.2,97.17 214.2,96.55 215.2,97.43 216.2,97.56 217.2,97.29 218.2,97.72 219.2,96.93 220.2,97.46 221.2,97.32 222.2,97.3 223.2,97.13 224.2,95.07 225.2,97.81 226.2,97.15 227.2,97.42 228.2,96.58 229.2,97.47 230.2,97.4 231.2,97.88 232.2,97.64 233.2,96.89 234.2,97.03 235.2,97.43 236.2,96.52 237.2,97.14 238.2,96.73 239.2,96.65 240.2,96.57 241.2,97.57 242.2,96.67 243.2,96.84 244.2,97.04 245.2,97.71 246.2,96.6 247.2,97.12 248.2,97.26 249.2,97.73 250.2,97.64 251.2,97.7 252.2,96.88 253.2,97.07 254.2,96.99 255.2,97.73 256.2,97.83 257.2,96.7 258.2,96.74 259.2,96.81 260.2,96.82 261.2,97.17 262.2,97.31 263.2,96.86 264.2,96.5 265.2,97.08 266.2,97.01 267.2,97.28 268.2,97.82 269.2,97.46 270.2,97.21 271.2,97.35 272.2,97.44 273.2,96.57 274.2,97.75 275.2,97.58 276.2,97.71 277.2,97.61 278.2,97.04 279.2,97.05 280.2,96.64 281.2,97.38 282.2,96.58 283.2,96.58 284.2,96.78 285.2,96.72 286.2,96.97 287.2,96.56 288.2,96.49 289.2,96.7 290.2,96.63 291.2,95.4 292.2,96.53 293.2,97.71 294.2,97.35 295.2,96.7 296.2,96.84 297.2,96.98 298.2,97 299.2,96.66 300.2,97.68 301.2,97.88 302.2,97.14 303.2,97.17 304.2,96.61 305.2,96.63 306.2,96.97 307.2,96.86 308.2,97.65 309,97.39" fill="none" stroke-width="3.1" stroke-linejoin="round"/><path stroke="none" d="M309 95.29L311.1 97.39L309 99.49L306.9 97.39Z"/><path stroke="none" d="M157.6 73.51L159.4 75.31L157.6 77.11L155.8 75.31Z"/><path stroke="none" d="M141 95.17L142.8 96.97L141 98.77L139.2 96.97Z"/></g>
<g clip-path="url(#c3)" stroke="#2A68A8" fill="#2A68A8"><polyline points="140.9,96.97 141.6,97.52 144.4,17 157.3,17 157.5,75.31 157.9,94.19" fill="none" stroke-width="2" stroke-linejoin="round"/><path d="M142.8 17.1H158.7" stroke-width="3.3" fill="none"/><polyline points="158.2,96.94 159.2,96.7 160.2,97.4 161.2,96.59 162.2,97.24 163.2,97 164.2,96.57 165.2,97.2 166.2,96.54 167.2,97.1 168.2,96.59 169.2,96.62 170.2,97.08 171.2,97.65 172.2,96.66 173.2,96.8 174.2,97.37 175.2,97.82 176.2,97.3 177.2,97.05 178.2,97.86 179.2,96.56 180.2,97.69 181.2,96.9 182.2,96.69 183.2,96.66 184.2,96.92 185.2,97.63 186.2,96.74 187.2,97.3 188.2,97.38 189.2,97.01 190.2,97.26 191.2,96.58 192.2,96.57 193.2,96.78 194.2,97.44 195.2,97.09 196.2,96.93 197.2,97.31 198.2,97.12 199.2,96.91 200.2,97.6 201.2,97.47 202.2,96.83 203.2,97.29 204.2,97.23 205.2,97.72 206.2,97.51 207.2,96.89 208.2,97.86 209.2,96.66 210.2,97.08 211.2,97.55 212.2,96.7 213.2,97.17 214.2,96.55 215.2,97.43 216.2,97.56 217.2,97.29 218.2,97.72 219.2,96.93 220.2,97.46 221.2,97.32 222.2,97.3 223.2,97.13 224.2,95.07 225.2,97.81 226.2,97.15 227.2,97.42 228.2,96.58 229.2,97.47 230.2,97.4 231.2,97.88 232.2,97.64 233.2,96.89 234.2,97.03 235.2,97.43 236.2,96.52 237.2,97.14 238.2,96.73 239.2,96.65 240.2,96.57 241.2,97.57 242.2,96.67 243.2,96.84 244.2,97.04 245.2,97.71 246.2,96.6 247.2,97.12 248.2,97.26 249.2,97.73 250.2,97.64 251.2,97.7 252.2,96.88 253.2,97.07 254.2,96.99 255.2,97.73 256.2,97.83 257.2,96.7 258.2,96.74 259.2,96.81 260.2,96.82 261.2,97.17 262.2,97.31 263.2,96.86 264.2,96.5 265.2,97.08 266.2,97.01 267.2,97.28 268.2,97.82 269.2,97.46 270.2,97.21 271.2,97.35 272.2,97.44 273.2,96.57 274.2,97.75 275.2,97.58 276.2,97.71 277.2,97.61 278.2,97.04 279.2,97.05 280.2,96.64 281.2,97.38 282.2,96.58 283.2,96.58 284.2,96.78 285.2,96.72 286.2,96.97 287.2,96.56 288.2,96.49 289.2,96.7 290.2,96.63 291.2,95.4 292.2,96.53 293.2,97.71 294.2,97.35 295.2,96.7 296.2,96.84 297.2,96.98 298.2,97 299.2,96.66 300.2,97.68 301.2,97.88 302.2,97.14 303.2,97.17 304.2,96.61 305.2,96.63 306.2,96.97 307.2,96.86 308.2,97.65 309,97.39" fill="none" stroke-width="3.1" stroke-linejoin="round"/><path stroke="none" d="M309 95.29L311.1 97.39L309 99.49L306.9 97.39Z"/><path stroke="none" d="M157.6 73.51L159.4 75.31L157.6 77.11L155.8 75.31Z"/><path stroke="none" d="M141 95.17L142.8 96.97L141 98.77L139.2 96.97Z"/></g>
<path d="M140.6 20.6A3.6 44.1 0 1 0 144.8 20.6" fill="none" stroke="#FF2ADD" stroke-width="1.15" stroke-dasharray="1.1 1.1"/>
<path d="M153.51 20.6A4.1 44.1 0 1 0 158.29 20.6" fill="none" stroke="#FF2ADD" stroke-width="1.15" stroke-dasharray="1.1 1.1"/>
<ellipse cx="149.4" cy="18.3" rx="12.9" ry="7.1" fill="none" stroke="#F0202A" stroke-width="0.9" stroke-dasharray="1.6 1.1"/>
<text class="r" x="161.77" y="64.1" text-anchor="middle">I</text>
<text class="r" x="203.93" y="64.1" text-anchor="middle">II</text>
<text class="r" x="246.07" y="64.1" text-anchor="middle">III</text>
<text class="r" x="288.23" y="64.1" text-anchor="middle">IV</text>
</g>
</svg>
</body></html>
